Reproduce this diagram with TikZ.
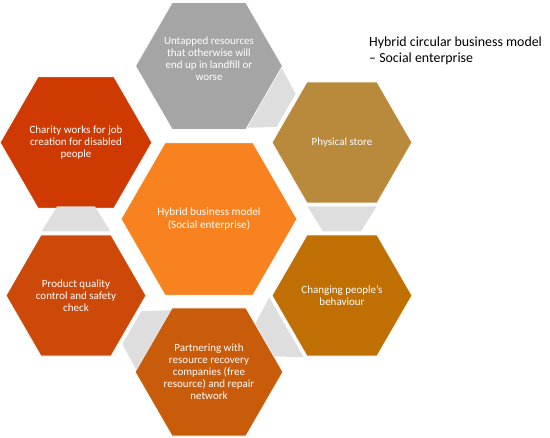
\documentclass[tikz,border=0pt]{standalone}
\usepackage{fontspec}
\setmainfont{Carlito}
\usepackage{tikz}
\usetikzlibrary{positioning,shapes.geometric,calc}
\definecolor{hubor}{HTML}{F8821F}
\definecolor{resgrey}{HTML}{A5A5A5}
\definecolor{storetan}{HTML}{B98A3C}
\definecolor{behavor}{HTML}{C07002}
\definecolor{partnor}{HTML}{C95C0B}
\definecolor{qualor}{HTML}{CD4909}
\definecolor{charred}{HTML}{CF3902}
\definecolor{linkgrey}{HTML}{DEDEDE}

\begin{document}
\begin{tikzpicture}[
  on grid,
  hex/.style={regular polygon,regular polygon sides=6,minimum size=140pt,inner sep=0pt,draw=white,line width=0.8pt,text=white,font=\fontsize{11}{12}\selectfont,align=center},
  bighex/.style={hex,minimum size=176pt,font=\fontsize{11.2}{13}\selectfont},
  link/.style={fill=linkgrey}
]
\useasboundingbox (0,0) rectangle (550pt,-438pt);

\node[bighex,fill=hubor] (hub) at (209pt,-219pt) {Hybrid business model\\(Social enterprise)};
\node[hex,fill=resgrey,text depth=15pt,above=153pt of hub] (res) {Untapped resources\\that otherwise will\\end up in landfill or\\worse};
\node[hex,fill=storetan,above right=76.5pt and 133pt of hub] (store) {Physical store};
\node[hex,fill=behavor,below right=76.5pt and 133pt of hub] (behav) {Changing people's\\behaviour};
\node[hex,fill=partnor,below=153pt of hub] (partner) {Partnering with\\resource recovery\\companies (free\\resource) and repair\\network};
\node[hex,fill=qualor,below left=76.5pt and 133pt of hub] (qual) {Product quality\\control and safety\\check};
\node[hex,fill=charred,above left=76.5pt and 133pt of hub] (charity) {Charity works for job\\creation for disabled\\people};

\node[anchor=west,align=left,inner sep=0pt,font=\fontsize{13.9}{16.5}\selectfont] (title) at (369pt,-51pt) {Hybrid circular business model\\-- Social enterprise};

% grey links between neighbours, wide end first
\foreach \a/\b in {res/store,store/behav,behav/partner,partner/qual,qual/charity}{
  \coordinate (w) at ($(\a.center)!64pt!(\b.center)$);
  \coordinate (n) at ($(\a.center)!89pt!(\b.center)$);
  \fill[link] ($(w)!34.5pt!90:(\b.center)$) -- ($(w)!34.5pt!-90:(\b.center)$)
    -- ($(n)!19pt!-90:(\b.center)$) -- ($(n)!19pt!90:(\b.center)$) -- cycle;
}
\end{tikzpicture}
\end{document}
